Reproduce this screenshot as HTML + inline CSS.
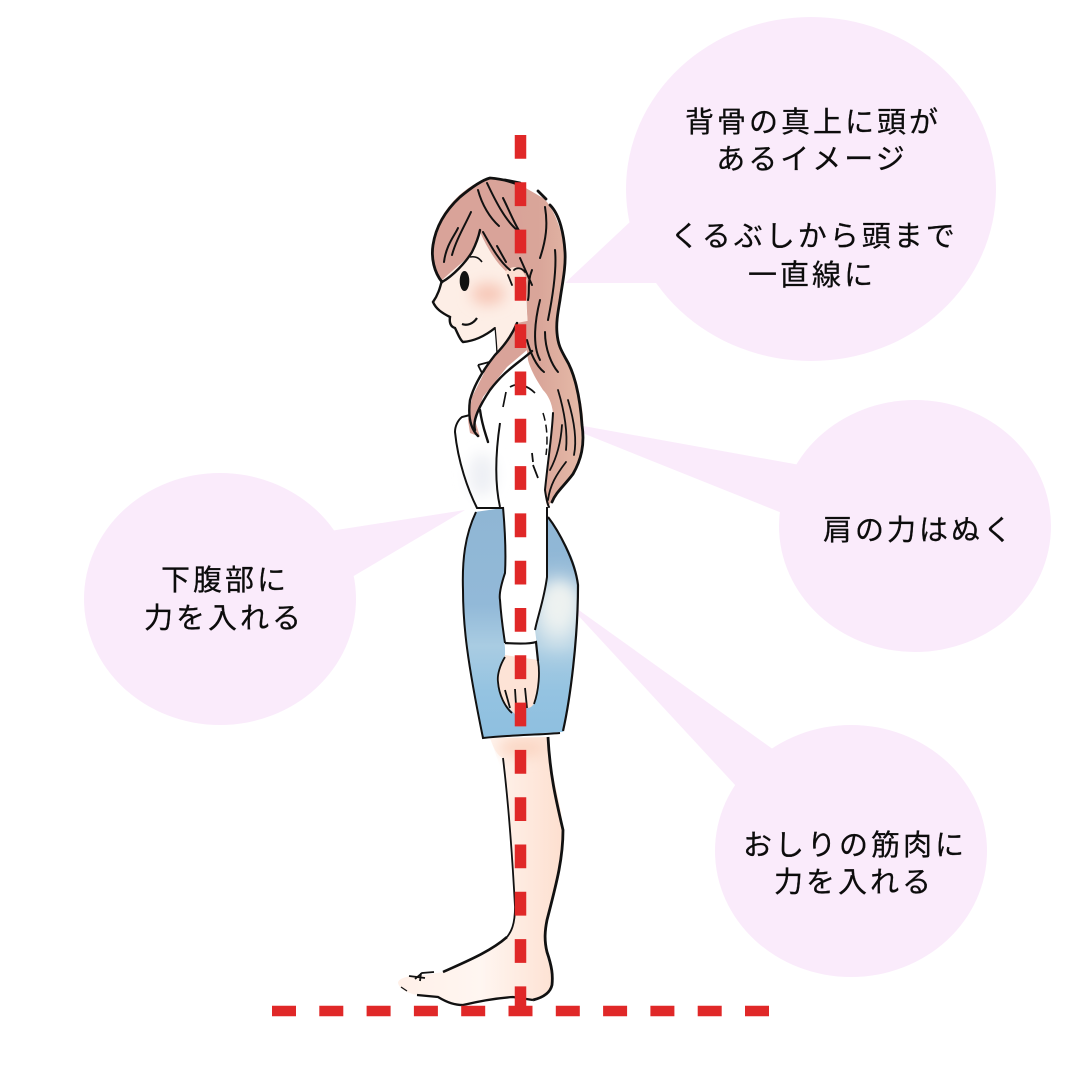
<!DOCTYPE html>
<html lang="ja"><head><meta charset="utf-8"><title>正しい姿勢</title>
<style>html,body{margin:0;padding:0;background:#fff}svg{display:block}
text{font-family:"Liberation Sans","Noto Sans CJK JP",sans-serif;font-size:29px;letter-spacing:3px;fill:#0c0c0c;text-anchor:middle;stroke:#0c0c0c;stroke-width:.25px}</style></head>
<body>
<svg width="1080" height="1080" viewBox="0 0 1080 1080" xmlns="http://www.w3.org/2000/svg">
<defs>
<linearGradient id="skirt" x1="0" y1="0" x2="0" y2="1"><stop offset="0" stop-color="#8fb6d4"/><stop offset=".42" stop-color="#92b9d8"/><stop offset=".6" stop-color="#a9cce2"/><stop offset=".8" stop-color="#94c3e1"/><stop offset="1" stop-color="#8ebfe0"/></linearGradient>
<linearGradient id="hair" x1="0" y1="0" x2="1" y2="0"><stop offset="0" stop-color="#d9a399"/><stop offset=".6" stop-color="#d9a599"/><stop offset="1" stop-color="#e6bba8"/></linearGradient>
<linearGradient id="leg" x1="0" y1="0" x2="1" y2="0"><stop offset="0" stop-color="#fff0e8"/><stop offset=".5" stop-color="#fff6f1"/><stop offset="1" stop-color="#fddfcf"/></linearGradient>
<filter id="b4" x="-100%" y="-100%" width="300%" height="300%"><feGaussianBlur stdDeviation="7"/></filter>
<filter id="b10" x="-150%" y="-150%" width="400%" height="400%"><feGaussianBlur stdDeviation="13"/></filter>
<clipPath id="skirtclip"><path d="M475,512 C465,535 462,560 463,590 C463,625 467,660 483,738 C510,735 540,733 563,732 C570,700 576,640 578,585 C578,570 572,555 563,540 C558,530 552,522 548,517 L503,508 Z"/></clipPath>
<clipPath id="legclip"><path d="M490,738 L548,737 L552,775 L503,775 Z"/></clipPath>
</defs>
<rect width="1080" height="1080" fill="#fff"/>

<!-- speech bubbles -->
<g fill="#faebfb">
<ellipse cx="811" cy="189" rx="185" ry="172"/><polygon points="632,220 565,283 660,283"/>
<ellipse cx="915" cy="526" rx="136" ry="126"/><polygon points="550,420 800,465 782,513"/>
<ellipse cx="220" cy="599" rx="136" ry="126"/><polygon points="465,510 330,531 352,577"/>
<ellipse cx="851" cy="851" rx="136" ry="126"/><polygon points="562,598 774,750 736,786"/>
</g>

<!-- leg and foot -->
<path d="M490,738 C494,750 498,756 503,758 C508,800 512,850 515,907 C515,925 511,932 507,937 C490,952 465,962 443,972 L425,975 C410,975 398,978 398,983 C400,990 408,993 417,995 L438,997 C448,1003 455,1005 463,1005 C480,1001 498,998 513,997 L533,1000 C543,997 552,992 552,985 C553,975 550,967 547,958 C544,945 545,930 547,920 C556,885 563,860 563,830 C561,800 550,775 548,737 Z" fill="url(#leg)"/>
<g clip-path="url(#legclip)"><ellipse cx="522" cy="748" rx="24" ry="9" fill="#fad5c2" filter="url(#b4)"/></g>
<path d="M503,758 C508,800 512,850 515,907 C515,925 511,932 507,937" fill="none" stroke="#111" stroke-width="1.800"/>
<path d="M507,937 C490,952 465,962 443,972" fill="none" stroke="#111" stroke-width="2.600"/>
<path d="M548,737 C550,775 556,800 563,830 C563,860 556,885 547,920 C545,930 544,940 547,952 C552,967 553,975 552,985 C550,994 541,998 533,1000" fill="none" stroke="#111" stroke-width="2.800"/>
<path d="M417,995 L438,997 C448,1003 455,1005 463,1005 C480,1001 498,998 513,997 L533,1000" fill="none" stroke="#111" stroke-width="2.300"/>
<path d="M409,976 L425,978 M415,979 L422,973 L434,972 M421,973 L420,981" fill="none" stroke="#111" stroke-width="1.800"/>
<path d="M401,987 L407,991" fill="none" stroke="#111" stroke-width="1.200"/>

<!-- skirt -->
<path d="M475,512 C465,535 462,560 463,590 C463,625 467,660 483,738 C510,735 540,733 563,732 C570,700 576,640 578,585 C578,570 572,555 563,540 C558,530 552,522 548,517 L503,508 Z" fill="url(#skirt)"/>
<g clip-path="url(#skirtclip)">
<ellipse cx="558" cy="612" rx="26" ry="34" fill="#f0f4f2" filter="url(#b10)"/>
<ellipse cx="560" cy="600" rx="14" ry="16" fill="#eef2f0" filter="url(#b4)"/>
</g>
<path d="M476,512 C465,535 462,560 463,590 C463,625 467,660 483,738 C510,735 535,735 560,733" fill="none" stroke="#111" stroke-width="2"/>
<path d="M548,517 C558,530 575,560 578,585 C578,640 570,700 563,731" fill="none" stroke="#111" stroke-width="2.200"/>

<!-- blouse with long sleeve -->
<path d="M478,365 L482,373 L497,360 L527,358 L553,400 L552,440 L547,507 L547,577 C544,600 538,615 535,630 L537,645 L505,648 C503,630 501,615 500,600 C499,595 501,585 505,573 C506,555 505,530 503,508 L477,508 C468,490 458,462 455,432 C456,425 458,420 462,417 L478,400 Z" fill="#fff"/>
<ellipse cx="482" cy="475" rx="14" ry="22" fill="#eef0f4" filter="url(#b4)"/>
<path d="M470,415 L462,417 C458,420 455,426 455,432 C458,462 468,490 477,508 L503,508" fill="none" stroke="#111" stroke-width="2"/>
<path d="M478,365 L482,373 L497,360 L478,365" fill="none" stroke="#111" stroke-width="1.800"/>
<path d="M500,423 C496,450 494,480 500,507 M503,507 C505,530 506,555 505,573 C501,585 499,595 500,600 C501,615 503,630 505,643" fill="none" stroke="#111" stroke-width="2"/>
<path d="M547,507 L547,577 C544,600 538,615 535,630" fill="none" stroke="#111" stroke-width="2"/>
<path d="M503,407 L506,392 M510,387 C518,382 528,386 535,393" fill="none" stroke="#111" stroke-width="1.700"/>
<path d="M543,413 C547,425 548,440 546,455" fill="none" stroke="#111" stroke-width="1.500" stroke-dasharray="8 4"/>
<path d="M532,453 L533,462 M533,465 L538,478" fill="none" stroke="#111" stroke-width="1.800"/>

<!-- hand and cuff -->
<path d="M505,643 L536,642 L538,660 L505,660 Z" fill="#fff"/>
<path d="M505,655 L538,660 C540,670 540,685 537,695 C535,705 530,710 526,707 L516,715 C505,705 498,695 498,680 C498,670 502,663 505,655 Z" fill="#fde3d6"/>
<path d="M505,643 C520,644 530,644 536,642 L538,661" fill="none" stroke="#111" stroke-width="2.200"/>
<path d="M505,657 C500,665 497,675 498,682 C499,695 505,707 512,713" fill="none" stroke="#111" stroke-width="1.800"/>
<path d="M538,661 C540,672 539,690 534,704 M505,690 L510,708 M515,689 L516,705 M525,688 L527,708" fill="none" stroke="#111" stroke-width="1.800"/>

<!-- hair back -->
<path d="M490,178 C500,178 510,180 517,183 L543,198 C552,205 560,225 565,247 C566,262 563,275 562,283 C560,295 557,310 557,320 C557,335 560,345 563,353 C570,365 576,378 577,387 C581,400 584,415 583,427 C584,440 583,448 582,453 C578,470 570,480 563,487 C557,494 552,500 548,507 C546,505 545,497 545,490 C546,470 548,455 550,443 C551,430 553,420 553,413 C552,403 548,395 543,390 C535,378 530,368 528,360 C527,350 525,340 528,333 L526,290 L500,240 L470,230 Z" fill="url(#hair)"/>

<!-- face -->
<path d="M442,280 C453,270 463,262 470,255 C474,245 477,238 480,232 C490,250 498,265 507,272 L525,293 L528,325 L505,345 L497,362 L495,330 C485,335 475,340 463,342 C458,338 455,333 455,328 C451,327 449,325 450,317 C442,313 436,309 433,302 C437,295 441,288 442,280 Z" fill="#fdeee6"/>
<ellipse cx="488" cy="294" rx="17" ry="11" fill="#f7c8b8" filter="url(#b4)"/>
<path d="M442,280 C440,288 438,295 433,302 C436,309 442,313 450,317 C449,323 451,327 455,328 C458,334 460,340 463,342 C475,341 485,336 495,328" fill="none" stroke="#111" stroke-width="2.400"/>
<path d="M495,327 C496,338 497,348 497,357" fill="none" stroke="#111" stroke-width="1.300"/>
<ellipse cx="464.500" cy="281" rx="4.800" ry="10" fill="#111"/>
<path d="M462,324 C467,326 473,324 477,318" fill="none" stroke="#111" stroke-width="2.200"/>
<path d="M470,257 C476,256 479,258 482,262" fill="none" stroke="#111" stroke-width="1.600"/>

<!-- hair front -->
<path d="M437,277 C431,262 432,245 438,225 C445,208 458,195 470,187 C478,182 485,178 490,178 C500,178 510,180 517,183 L528,260 L512,272 L507,272 C498,265 488,250 480,232 C477,238 474,245 470,255 C463,262 453,270 442,280 Z" fill="#d9a399"/>
<path d="M517,323 L507,340 L487,367 L472,397 L468,420 L470,433 L480,437 L475,420 L483,397 L507,367 L527,350 L532,320 Z" fill="#d9a399"/>
<path d="M505,272 C515,262 523,268 527,280 L524,298 L514,300 C515,285 510,280 505,272 Z" fill="#fce0d2"/>

<!-- hair lines -->
<g fill="none" stroke="#111" stroke-linecap="round">
<path d="M442,282 C434,272 431,258 433,245 C436,225 446,210 460,197 C472,187 482,180 490,178 C503,179 512,182 517,184" stroke-width="2.800"/>
<path d="M505,180 L520,183 M538,191 L546,199 M550,205 C560,215 564,235 565,252 C566,268 562,285 560,300 C558,312 556,322 557,333 C558,345 561,350 566,359 C574,372 580,395 582,425 C585,445 581,460 573,474 C564,486 556,492 552,502" stroke-width="2.800"/>
<path d="M442,282 C453,276 466,262 472,252 C476,244 479,235 480,230" stroke-width="2.400"/>
<path d="M444,262 C446,245 455,235 458,228 M452,255 C456,240 465,225 471,212" stroke-width="2"/>
<path d="M478,190 C482,205 490,218 499,226 M487,183 C495,200 505,220 517,230 M503,198 C510,212 515,225 520,232" stroke-width="2"/>
<path d="M483,232 C492,248 500,262 510,270 M497,246 L506,262 M520,258 L532,285" stroke-width="2"/>
<path d="M545,207 C548,225 546,240 540,258 M532,270 C527,282 530,292 528,300 M555,250 C557,270 552,300 548,320" stroke-width="2"/>
<path d="M540,300 C535,320 532,345 540,360 M545,332 C545,350 552,365 558,372 M527,340 C530,352 536,366 544,372" stroke-width="2"/>
<path d="M517,323 C512,335 505,345 495,355 C483,370 474,385 470,400 C468,415 470,428 478,436" stroke-width="2.400"/>
<path d="M532,351 C520,362 505,370 490,390 C480,405 472,420 475,430 M480,410 C482,425 485,432 488,442" stroke-width="2.400"/>
<path d="M558,390 C564,410 568,430 566,450 M568,400 C574,420 577,440 574,455 M550,470 C558,455 561,440 562,425 M548,500 C550,485 556,475 566,462" stroke-width="1.800"/>
<path d="M553,413 C552,435 548,460 545,490 C546,497 547,503 549,507" stroke-width="2"/>
<path d="M514,270 C517,267 522,268 525,272 M508,275 L512,285" stroke-width="1.800"/>
</g>

<!-- red dashed lines -->
<path d="M520.500,135 V1012" fill="none" stroke="#e02828" stroke-width="11.500" stroke-dasharray="23.800 23.500"/>
<path d="M272,1011 H770" fill="none" stroke="#e02828" stroke-width="10.500" stroke-dasharray="24 23.300"/>

<!-- labels -->
<text x="813" y="132">背骨の真上に頭が</text>
<text x="812" y="169">あるイメージ</text>
<text x="814" y="246">くるぶしから頭まで</text>
<text x="812" y="285">一直線に</text>
<text x="919" y="540">肩の力はぬく</text>
<text x="225" y="590">下腹部に</text>
<text x="224" y="628">力を入れる</text>
<text x="855" y="855">おしりの筋肉に</text>
<text x="854" y="892">力を入れる</text>
</svg>
</body></html>
